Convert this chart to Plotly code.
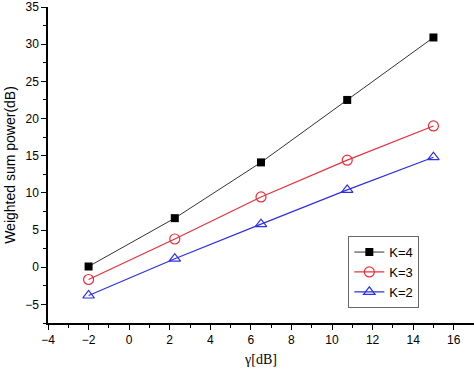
import plotly.graph_objects as go

gamma_db = [-2, 2.25, 6.5, 10.75, 15]
k4 = [0.1, 6.6, 14.1, 22.5, 30.9]
k3 = [-1.65, 3.8, 9.45, 14.4, 19.0]
k2 = [-3.8, 1.15, 5.8, 10.4, 14.8]
series_names = ["K=4", "K=3", "K=2"]

fig = go.Figure()
fig.add_trace(go.Scatter(x=gamma_db, y=k4, name=series_names[0], mode="lines+markers",
                         line=dict(color="#333333", width=1),
                         marker=dict(symbol="square", size=8, color="black")))
fig.add_trace(go.Scatter(x=gamma_db, y=k3, name=series_names[1], mode="lines+markers",
                         line=dict(color="#e8303c", width=1.2),
                         marker=dict(symbol="circle-open", size=10, color="#e8303c", line=dict(width=1.2))))
fig.add_trace(go.Scatter(x=gamma_db, y=k2, name=series_names[2], mode="lines+markers",
                         line=dict(color="#2f2fe6", width=1.2),
                         marker=dict(symbol="triangle-up-open", size=10, color="#2f2fe6", line=dict(width=1.2))))

fig.update_layout(
    width=474, height=373,
    margin=dict(l=48, r=0, t=7, b=50, autoexpand=False),
    paper_bgcolor="white", plot_bgcolor="white",
    font=dict(family="Liberation Sans, Arial, sans-serif", size=12, color="black"),
    legend=dict(x=0.705, y=0.275, xanchor="left", yanchor="top",
                bordercolor="#666666", borderwidth=1, bgcolor="white",
                font=dict(size=13), tracegroupgap=0, itemwidth=30),
    xaxis=dict(range=[-4, 17], tickmode="array", tickvals=list(range(-4, 17, 2)),
               showgrid=False, zeroline=False, showline=True, linecolor="black", linewidth=1.5,
               ticks="outside", ticklen=5, tickwidth=1.2, tickcolor="black",
               minor=dict(ticks="outside", ticklen=3, dtick=1, tickcolor="black"),
               title=dict(text="γ[dB]", font=dict(family="Liberation Serif, Times New Roman, serif", size=14), standoff=8)),
    yaxis=dict(range=[-7.5, 35], tickmode="array", tickvals=list(range(-5, 36, 5)),
               showgrid=False, zeroline=False, showline=True, linecolor="black", linewidth=1.5,
               ticks="outside", ticklen=5, tickwidth=1.2, tickcolor="black",
               minor=dict(ticks="outside", ticklen=3, dtick=2.5, tick0=0, tickcolor="black"),
               title=dict(text="Weighted sum power(dB)", font=dict(size=14), standoff=6)),
)

fig.write_html("out.html", config={"displayModeBar": False},
               post_script="document.body.style.margin='0';")
